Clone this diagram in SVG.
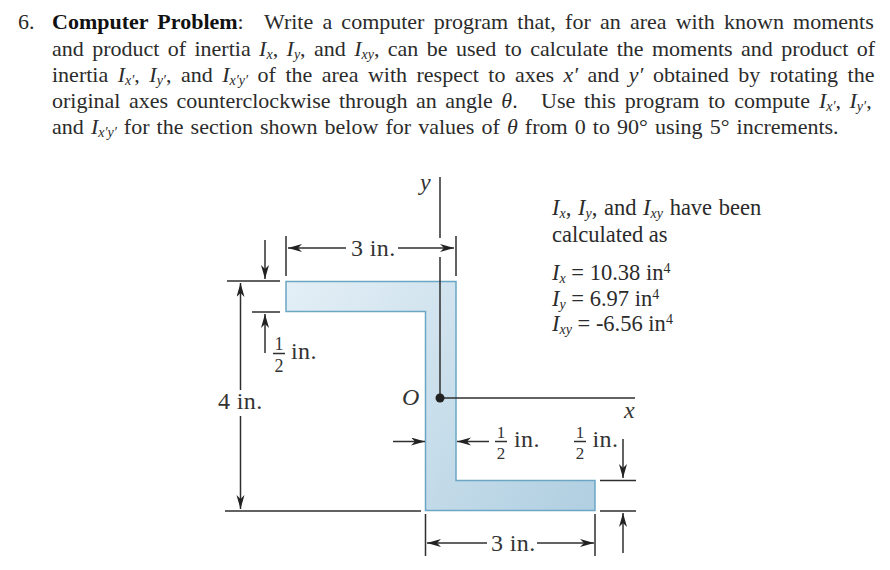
<svg xmlns="http://www.w3.org/2000/svg" width="890" height="570" viewBox="0 0 890 570">
<defs>
<style>
text{font-family:"Liberation Serif","Times New Roman",serif;fill:#2b2b2b}
.p{font-size:22px}
.n{font-size:22.5px}
.d{font-size:24px;fill:#333;letter-spacing:.4px}
.b{font-weight:bold;fill:#111}
.i{font-style:italic}
.s{font-size:14px;font-style:italic}
.f{font-size:17px;fill:#333;text-anchor:middle}
.l{stroke:#2f2f2f;stroke-width:1.5;fill:none}
.a{stroke:#2f2f2f;stroke-width:1.5;fill:none;marker-end:url(#ah)}
</style>
<marker id="ah" markerUnits="userSpaceOnUse" markerWidth="16" markerHeight="10" refX="14" refY="4" orient="auto">
<path d="M0,0 L14,4 L0,8 L4,4 Z" fill="#222"/>
</marker>
<linearGradient id="g" gradientUnits="userSpaceOnUse" x1="286" y1="281" x2="595" y2="511">
<stop offset="0" stop-color="#e4eff6"/><stop offset="1" stop-color="#b0cfe1"/>
</linearGradient>
</defs>
<rect width="890" height="570" fill="#fff"/>
<g id="problem">
<text class="p" x="18" y="29">6.</text>
<text class="p" x="52" y="29" word-spacing="3.7"><tspan class="b">Computer Problem</tspan>:<tspan x="264">Write a computer program that, for an area with known moments</tspan></text>
<text class="p" x="52" y="56" word-spacing="2.9">and product of inertia <tspan class="i">I</tspan><tspan class="s" dy="3">x</tspan><tspan dy="-3">, </tspan><tspan class="i">I</tspan><tspan class="s" dy="3">y</tspan><tspan dy="-3">, and </tspan><tspan class="i">I</tspan><tspan class="s" dy="3">xy</tspan><tspan dy="-3">, can be used to calculate the moments and product of</tspan></text>
<text class="p" x="52" y="82" word-spacing="4">inertia <tspan class="i">I</tspan><tspan class="s" dy="3">x′</tspan><tspan dy="-3">, </tspan><tspan class="i">I</tspan><tspan class="s" dy="3">y′</tspan><tspan dy="-3">, and </tspan><tspan class="i">I</tspan><tspan class="s" dy="3">x′y′</tspan><tspan dy="-3"> of the area with respect to axes </tspan><tspan class="i">x′</tspan> and <tspan class="i">y′</tspan> obtained by rotating the</text>
<text class="p" x="52" y="108" word-spacing="3">original axes counterclockwise through an angle <tspan class="i">θ</tspan>.<tspan x="541" word-spacing="3.4">Use this program to compute </tspan><tspan class="i">I</tspan><tspan class="s" dy="3">x′</tspan><tspan dy="-3">, </tspan><tspan class="i">I</tspan><tspan class="s" dy="3">y′</tspan><tspan dy="-3">,</tspan></text>
<text class="p" x="52" y="134" word-spacing="1.6">and <tspan class="i">I</tspan><tspan class="s" dy="3">x′y′</tspan><tspan dy="-3"> for the section shown below for values of </tspan><tspan class="i">θ</tspan> from 0 to 90° using 5° increments.</text>
</g>
<g id="section">
<path d="M286,281.5H456V480.5H595V510.5H425.5V311.5H286Z" fill="url(#g)" stroke="#6ba7c4" stroke-width="1.5"/>
</g>
<g id="connectors">
<path class="l" d="M440,177V238M440,257V398M440,398H635"/>
<path class="l" d="M286,236V276M456,236V276M227,281H280M252,312H280M225,511H421M425.5,514V556M595,514V556M600,480.5H636M600,511H636"/>
<path class="a" d="M346,248H288"/>
<path class="a" d="M398,248H454"/>
<path class="a" d="M265,240V279"/>
<path class="a" d="M265,353V314"/>
<path class="a" d="M240.5,390V283"/>
<path class="a" d="M240.5,416V509"/>
<path class="a" d="M393,441.5H425"/>
<path class="a" d="M489,441.5H457"/>
<path class="a" d="M487,543H427"/>
<path class="a" d="M537,543H594"/>
<path class="a" d="M623,439V478"/>
<path class="a" d="M623,553V513"/>
</g>
<g id="origin"><circle cx="440" cy="398" r="4.5" fill="#222"/><text class="d i" x="402" y="405">O</text></g>
<g id="axis-labels">
<text class="d i" x="420" y="190">y</text>
<text class="d i" x="624" y="418">x</text>
</g>
<g id="dimensions">
<text class="d" x="351" y="256">3 in.</text>
<text class="d" x="218" y="409">4 in.</text>
<text class="d" x="491" y="551">3 in.</text>
<g><text class="f" x="279" y="350" font-size="18" style="font-size:18px">1</text><path class="l" d="M273,353.5H285"/><text class="f" x="279" y="372" style="font-size:18px">2</text><text class="d" x="291" y="359">in.</text></g>
<g><text class="f" x="501" y="438">1</text><path class="l" d="M495,441.5H507"/><text class="f" x="501" y="459">2</text><text class="d" x="514" y="447">in.</text></g>
<g><text class="f" x="580" y="438">1</text><path class="l" d="M574,441.5H586"/><text class="f" x="580" y="459">2</text><text class="d" x="592.5" y="447">in.</text></g>
</g>
<g id="note">
<text class="n" x="552" y="215" word-spacing="1"><tspan class="i">I</tspan><tspan class="s" dy="3">x</tspan><tspan dy="-3">, </tspan><tspan class="i">I</tspan><tspan class="s" dy="3">y</tspan><tspan dy="-3">, and </tspan><tspan class="i">I</tspan><tspan class="s" dy="3">xy</tspan><tspan dy="-3"> have been</tspan></text>
<text class="n" x="552" y="242">calculated as</text>
<text class="n" x="552" y="280"><tspan class="i">I</tspan><tspan class="s" dy="3">x</tspan><tspan dy="-3"> = 10.38 in</tspan><tspan font-size="14" dy="-7">4</tspan></text>
<text class="n" x="552" y="306"><tspan class="i">I</tspan><tspan class="s" dy="3">y</tspan><tspan dy="-3"> = 6.97 in</tspan><tspan font-size="14" dy="-7">4</tspan></text>
<text class="n" x="552" y="331"><tspan class="i">I</tspan><tspan class="s" dy="3">xy</tspan><tspan dy="-3"> = -6.56 in</tspan><tspan font-size="14" dy="-7">4</tspan></text>
</g>
</svg>
